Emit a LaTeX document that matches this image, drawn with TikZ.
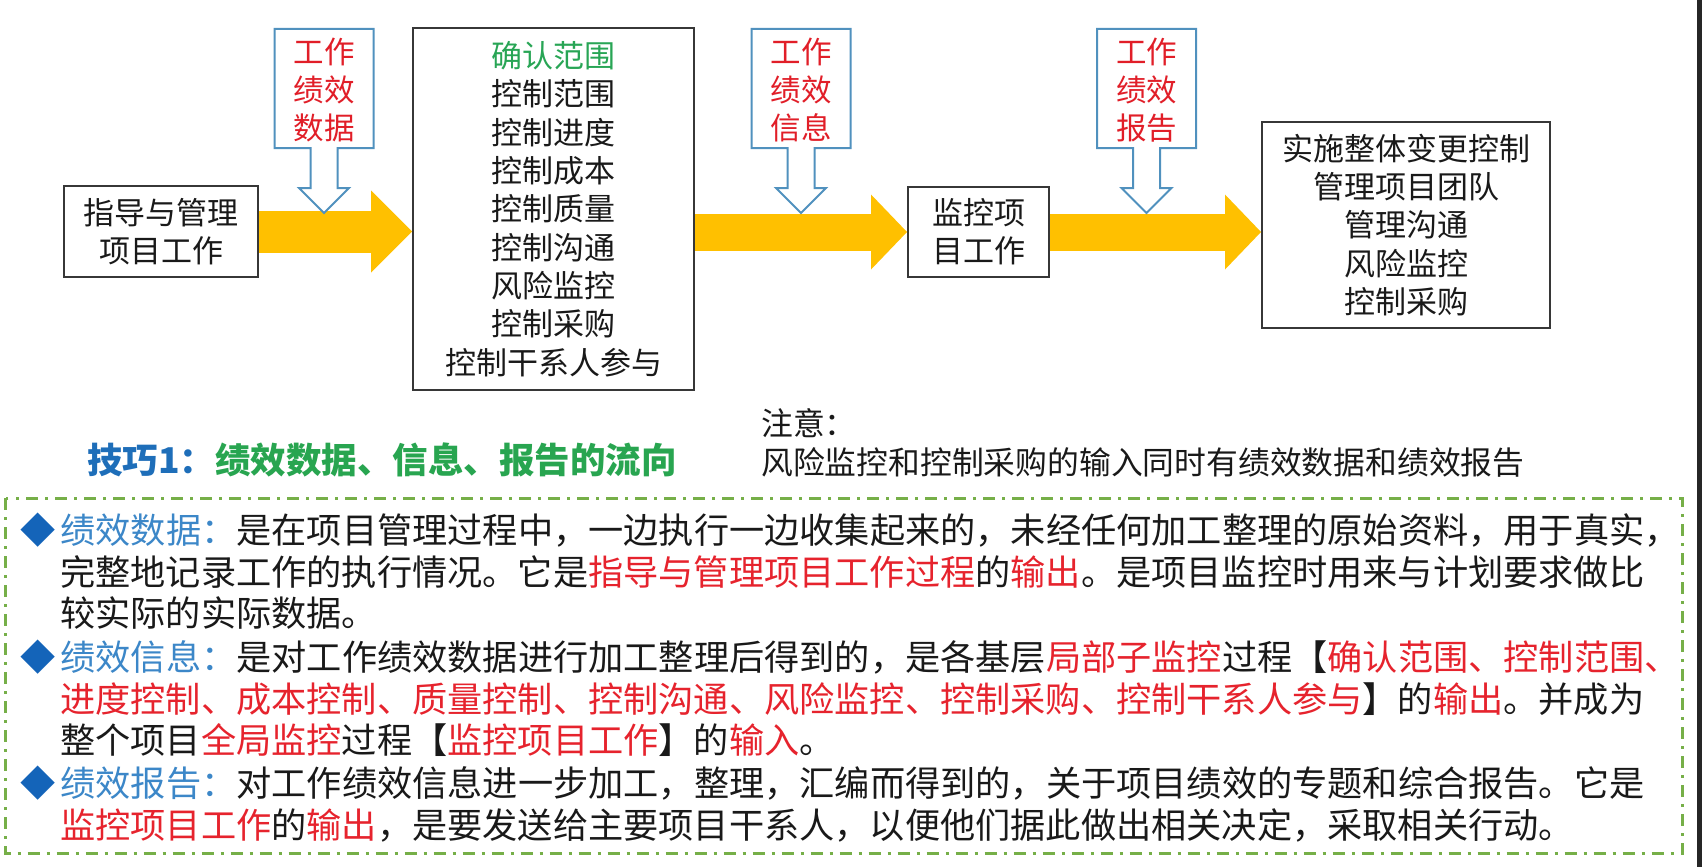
\documentclass[tikz,border=0pt]{standalone}
\usepackage{fontspec}
\setmainfont{Noto Sans CJK SC}
\usetikzlibrary{arrows.meta}
\definecolor{gold}{RGB}{255,192,0}
\definecolor{ink}{RGB}{25,25,25}
\definecolor{boxgray}{RGB}{55,55,55}
\definecolor{callblue}{RGB}{80,145,190}
\definecolor{callred}{RGB}{225,30,40}
\definecolor{okgreen}{RGB}{40,165,85}
\definecolor{tipblue}{RGB}{30,110,185}
\definecolor{tipgreen}{RGB}{40,165,80}
\definecolor{dashgreen}{RGB}{118,175,72}
\definecolor{bullblue}{RGB}{20,100,185}
\definecolor{labblue}{RGB}{60,135,200}
\definecolor{hotred}{RGB}{230,35,45}
\newcommand{\hot}[1]{\textcolor{hotred}{#1}}
\begin{document}
\begin{tikzpicture}[x=1pt,y=-1pt,
  box/.style={draw=boxgray,line width=2pt,align=center,inner sep=0pt,text=ink,font=\fontsize{31}{38}\selectfont},
  call/.style={draw=callblue,fill=white,line width=2pt},
  calltext/.style={align=center,inner sep=0pt,text=callred,font=\fontsize{30.5}{38}\selectfont},
  bigflow/.style={color=gold,line width=42pt,-{Triangle[length=41pt,width=82pt,line width=0pt]}},
  flow/.style={color=gold,line width=37pt,-{Triangle[length=36pt,width=75pt,line width=0pt]}},
  para/.style={anchor=north west,align=left,inner sep=0pt,text=ink,font=\fontsize{35.2}{41.5}\selectfont}]
\useasboundingbox (0,0) rectangle (1702,867);
\fill[black!85] (1697,0) rectangle (1702,867);

% process boxes
\node[box,minimum width=194pt,minimum height=91pt] (guide) at (161,231.5) {指导与管理\\项目工作};
\node[box,minimum width=281pt,minimum height=362pt,font=\fontsize{31}{38.4}\selectfont] (procs) at (553.5,209)
  {\textcolor{okgreen}{确认范围}\\控制范围\\控制进度\\控制成本\\控制质量\\控制沟通\\风险监控\\控制采购\\控制干系人参与};
\node[box,minimum width=141pt,minimum height=90pt] (monitor) at (978.5,232) {监控项\\目工作};
\node[box,minimum width=288pt,minimum height=206pt,font=\fontsize{31}{38.3}\selectfont] (integ) at (1406,225)
  {实施整体变更控制\\管理项目团队\\管理沟通\\风险监控\\控制采购};

% flows
\draw[bigflow] (guide.east) -- (guide.east -| procs.west);
\draw[flow] (procs.east |- monitor.west) -- (monitor.west);
\draw[flow] (monitor.east) -- (monitor.east -| integ.west);

% callouts
\foreach \n/\x/\t in {cdata/324/数据,cinfo/801/信息,crep/1146.5/报告}
  \draw[call] (\x-49.5,29) -- (\x+49.5,29) -- (\x+49.5,148) -- (\x+13.5,148) -- (\x+13.5,188)
    -- (\x+25,188) -- (\x,213) -- (\x-25,188) -- (\x-13.5,188) -- (\x-13.5,148) -- (\x-49.5,148) -- cycle
    node[calltext] (\n) at (\x,90) {工作\\绩效\\\t};

% notes
\node[anchor=west,inner sep=0pt,font=\bfseries\fontsize{35.5}{40}\selectfont] (trick) at (87,460)
  {\textcolor{tipblue}{技巧1：}\textcolor{tipgreen}{绩效数据、信息、报告的流向}};
\node[anchor=west,align=left,inner sep=0pt,text=ink,font=\fontsize{31.8}{39}\selectfont] (warn) at (761,442.5)
  {注意：\\风险监控和控制采购的输入同时有绩效数据和绩效报告};

% explanation
\draw[dashgreen,line width=3pt,dash pattern=on 12pt off 7pt on 3pt off 7pt] (5.5,498) rectangle (1682,853);
\node[para] (pdata) at (20,513)
  {\textcolor{bullblue}{◆}\hspace{5pt}\textcolor{labblue}{绩效数据：}是在项目管理过程中，一边执行一边收集起来的，未经任何加工整理的原始资料，用于真实，\\
   \hspace*{40pt}完整地记录工作的执行情况。它是\hot{指导与管理项目工作过程}的\hot{输出}。是项目监控时用来与计划要求做比\\
   \hspace*{40pt}较实际的实际数据。};
\node[para] (pinfo) at (20,640)
  {\textcolor{bullblue}{◆}\hspace{5pt}\textcolor{labblue}{绩效信息：}是对工作绩效数据进行加工整理后得到的，是各基层\hot{局部子监控}过程【\hot{确认范围、控制范围、}\\
   \hspace*{40pt}\hot{进度控制、成本控制、质量控制、控制沟通、风险监控、控制采购、控制干系人参与}】的\hot{输出}。并成为\\
   \hspace*{40pt}整个项目\hot{全局监控}过程【\hot{监控项目工作}】的\hot{输入}。};
\node[para] (prep) at (20,766)
  {\textcolor{bullblue}{◆}\hspace{5pt}\textcolor{labblue}{绩效报告：}对工作绩效信息进一步加工，整理，汇编而得到的，关于项目绩效的专题和综合报告。它是\\
   \hspace*{40pt}\hot{监控项目工作}的\hot{输出}，是要发送给主要项目干系人，以便他们据此做出相关决定，采取相关行动。};
\end{tikzpicture}
\end{document}
